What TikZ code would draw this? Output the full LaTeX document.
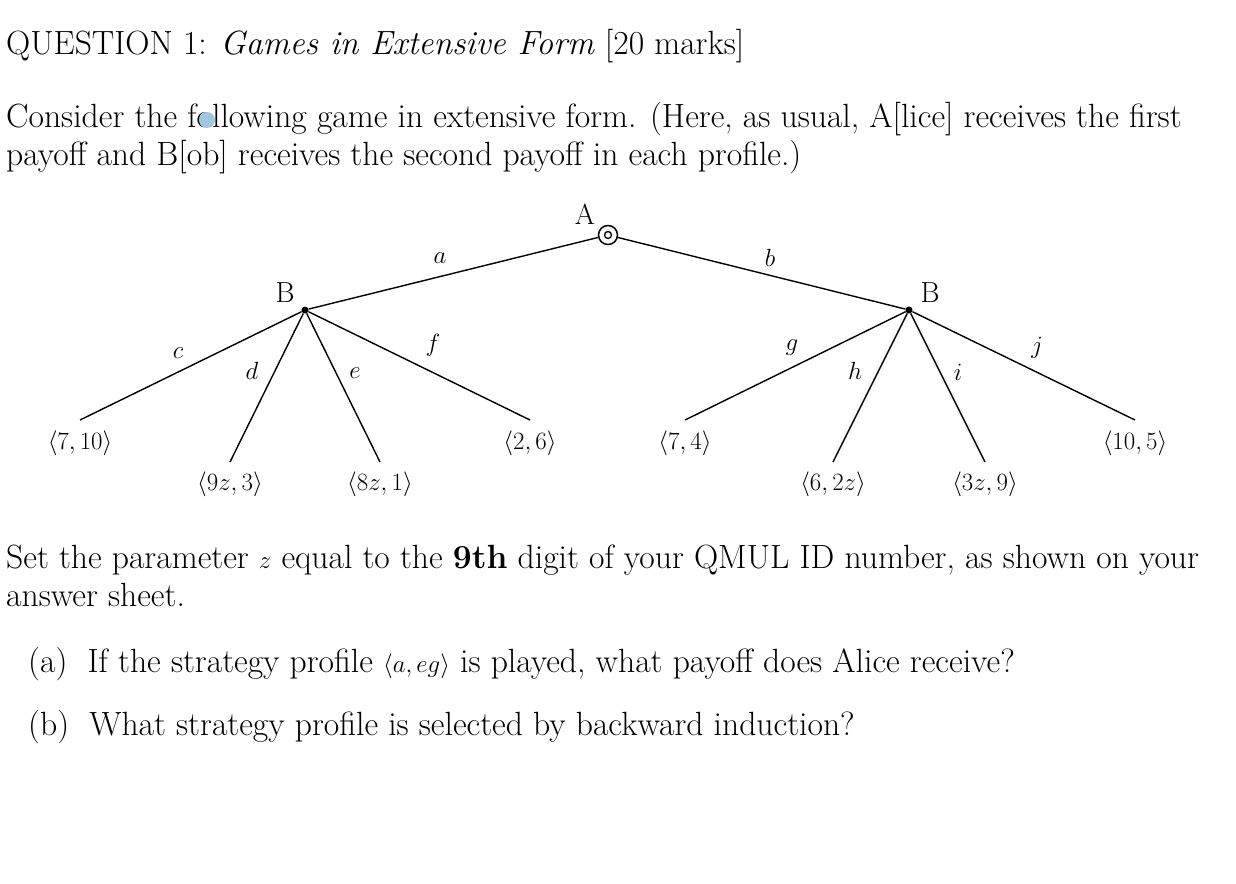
\documentclass[tikz,border=0pt]{standalone}
\usepackage{amsmath}
\begin{document}
\begin{tikzpicture}[x=1pt,y=-1pt,
  txt/.style={anchor=base west,inner sep=0pt,font=\fontsize{33.6}{38}\selectfont},
  lf/.style={inner sep=0pt,font=\fontsize{29}{32}\selectfont},
  el/.style={inner sep=0pt,font=\fontsize{28}{32}\selectfont},
  edge/.style={line width=1.4pt},
  dot/.style={circle,fill=black,inner sep=0pt,minimum size=7pt}]
\definecolor{dotblue}{RGB}{160,198,225}
\useasboundingbox (0,0) rectangle (1236,883);
\node[txt] (t1) at (6,55) {QUESTION 1: \textit{Games in Extensive Form} [20 marks]};
\node[txt] (t2) at (6,127) {Consider the following game in extensive form. (Here, as usual, A[lice] receives the first};
\node[txt] (t3) at (6,165) {payoff and B[ob] receives the second payoff in each profile.)};
\fill[dotblue] (207,120) circle (8);
\node[txt] (t4) at (6,568) {Set the parameter $z$ equal to the \textbf{9th} digit of your QMUL ID number, as shown on your};
\node[txt] (t5) at (6,606) {answer sheet.};
\node[txt] (t6) at (28,672) {(a)\ \ If the strategy profile $\langle a, eg\rangle$ is played, what payoff does Alice receive?};
\node[txt] (t7) at (28,735) {(b)\ \ What strategy profile is selected by backward induction?};
% tree
\node[circle,draw,line width=1.5pt,minimum size=19pt,inner sep=0pt] (A) at (608,235) {};
\node[circle,draw,line width=1.3pt,minimum size=7pt,inner sep=0pt] at (608,235) {};
\node[lf] at (585,214) {A};
\node[dot] (BL) at (305,310) {};
\node[dot] (BR) at (909,310) {};
\node[lf] at (285,293) {B};
\node[lf] at (930,293) {B};
\draw[edge] (A) -- (BL); \draw[edge] (A) -- (BR);
\foreach \n/\x/\y in {c/80/420,d/230/462,e/380/462,f/530/420,g/685/420,h/833/462,i/985/462,j/1135/420}
  \coordinate (\n) at (\x,\y);
\foreach \n in {c,d,e,f} \draw[edge] (BL) -- (\n);
\foreach \n in {g,h,i,j} \draw[edge] (BR) -- (\n);
\node[lf] at (80,443) {$\langle 7,10\rangle$};
\node[lf] at (230,484) {$\langle 9z,3\rangle$};
\node[lf] at (380,484) {$\langle 8z,1\rangle$};
\node[lf] at (530,443) {$\langle 2,6\rangle$};
\node[lf] at (685,443) {$\langle 7,4\rangle$};
\node[lf] at (833,484) {$\langle 6,2z\rangle$};
\node[lf] at (985,484) {$\langle 3z,9\rangle$};
\node[lf] at (1135,443) {$\langle 10,5\rangle$};
\node[el] at (440,258) {$a$};
\node[el] at (770,258) {$b$};
\node[el] at (178,353) {$c$};
\node[el] at (252,371) {$d$};
\node[el] at (355,373) {$e$};
\node[el] at (433,345) {$f$};
\node[el] at (792,348) {$g$};
\node[el] at (855,371) {$h$};
\node[el] at (958,372) {$i$};
\node[el] at (1037,348) {$j$};
\end{tikzpicture}
\end{document}
